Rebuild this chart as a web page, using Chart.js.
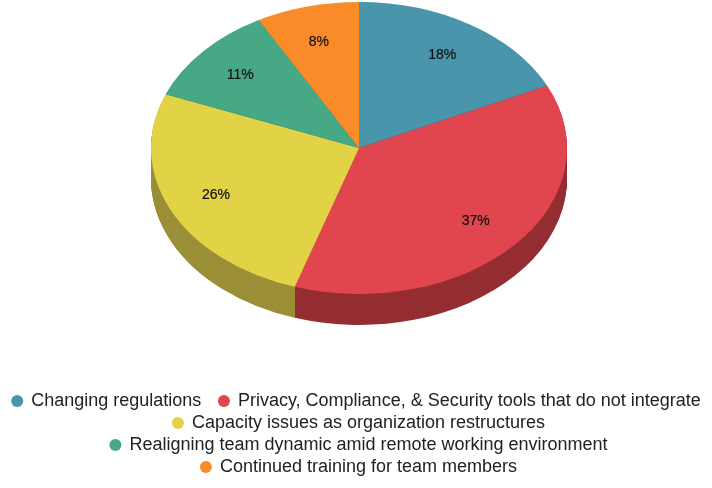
<!DOCTYPE html>
<html>
<head>
<meta charset="utf-8">
<style>
  html, body { margin: 0; padding: 0; background: #fff; }
  #wrap { width: 712px; height: 488px; }
</style>
<script src="https://cdn.jsdelivr.net/npm/chart.js@4"></script>
</head>
<body>
<div id="wrap"><canvas id="chart"></canvas></div>
<script>
const categories = [
  'Changing regulations',
  'Privacy, Compliance, & Security tools that do not integrate',
  'Capacity issues as organization restructures',
  'Realigning team dynamic amid remote working environment',
  'Continued training for team members'
];
const shares = [18, 37, 26, 11, 8];
const topColors = ['#4996AC', '#E1454E', '#E2D246', '#47A885', '#F98B28'];
const sideColors = ['#336979', '#952E33', '#9B8F37', '#32765D', '#AF611C'];

// the pie is squashed and extruded to look 3D
const CX = 359, CY = 148, SQUASH = 0.702, DEPTH = 31;

function squash(ctx, arc) {
  ctx.translate(CX, CY);
  ctx.scale(1, SQUASH);
  ctx.translate(-arc.x, -arc.y);
}

const pie3d = {
  id: 'pie3d',
  beforeDatasetsDraw(chart) {
    const { ctx } = chart;
    const arcs = chart.getDatasetMeta(0).data;
    ctx.save();
    // side wall: stack of darker copies, deepest first
    for (let d = DEPTH; d > 0; d--) {
      ctx.save();
      ctx.translate(0, d);
      squash(ctx, arcs[0]);
      arcs.forEach((arc, i) => {
        const opts = arc.options;
        arc.options = Object.assign({}, opts, { backgroundColor: sideColors[i] });
        arc.draw(ctx);
        arc.options = opts;
      });
      ctx.restore();
    }
    squash(ctx, arcs[0]);
  },
  afterDatasetsDraw(chart) {
    const { ctx } = chart;
    ctx.restore();
    const arcs = chart.getDatasetMeta(0).data;
    ctx.save();
    ctx.font = '14px "Liberation Sans", Arial, sans-serif';
    ctx.fillStyle = '#111';
    ctx.strokeStyle = '#111';
    ctx.lineWidth = 0.2;
    ctx.textAlign = 'center';
    ctx.textBaseline = 'middle';
    arcs.forEach((arc, i) => {
      const mid = (arc.startAngle + arc.endAngle) / 2;
      const r = arc.outerRadius * 0.755;
      const x = CX - 1 + Math.cos(mid) * r;
      const y = CY + 0.5 + Math.sin(mid) * r * SQUASH;
      ctx.fillText(shares[i] + '%', x, y);
      ctx.strokeText(shares[i] + '%', x, y);
    });
    ctx.restore();
  }
};

new Chart(document.getElementById('chart'), {
  type: 'pie',
  plugins: [pie3d],
  data: {
    labels: categories,
    datasets: [{
      data: shares,
      backgroundColor: topColors,
      borderWidth: 0,
      radius: 208,
      clip: false
    }]
  },
  options: {
    responsive: true,
    maintainAspectRatio: false,
    animation: false,
    layout: { padding: { bottom: 2, left: 6 } },
    plugins: {
      tooltip: { enabled: false },
      legend: {
        position: 'bottom',
        labels: {
          usePointStyle: true,
          pointStyle: 'circle',
          boxWidth: 10,
          boxHeight: 8.5,
          padding: 4,
          color: '#222',
          font: { family: '"Liberation Sans", Arial, sans-serif', size: 18 },
          generateLabels(chart) {
            const items = Chart.overrides.pie.plugins.legend.labels.generateLabels(chart);
            // wider gap after the first entry, and keep the shared row where it is
            items[0].text += '  \u2009';
            items[1].text += ' ';
            return items;
          }
        }
      }
    }
  }
});
</script>
</body>
</html>
